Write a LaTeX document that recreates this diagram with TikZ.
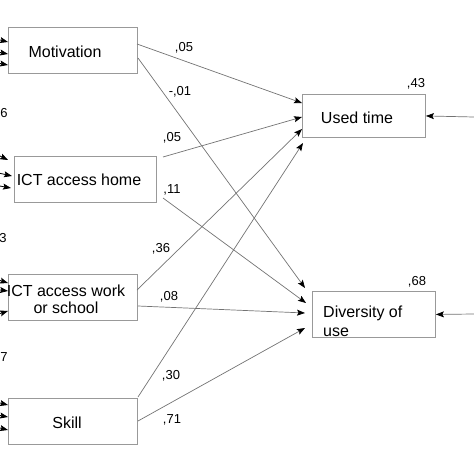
\documentclass[tikz,border=0pt]{standalone}
\usepackage{fontspec}
\setmainfont{Liberation Sans}
\usetikzlibrary{arrows.meta}
\tikzset{
  box/.style={draw=black!40, line width=0.9pt, inner sep=0pt, anchor=north west},
  lbl/.style={font=\fontsize{16}{17}\selectfont, inner sep=0pt, anchor=base},
  coef/.style={font=\fontsize{13}{14}\selectfont, inner sep=0pt},
  path/.style={draw=black!55, line width=0.7pt, -{Stealth[length=8pt,width=6pt,inset=1.5pt,color=black]}},
  stub/.style={draw=black, line width=0.8pt, -{Stealth[length=8pt,width=6pt,inset=1.5pt,color=black]}}
}
\begin{document}
\begin{tikzpicture}[x=1pt,y=-1pt]
\useasboundingbox (0,0) rectangle (474,474);
% boxes
\node[box, minimum width=129pt, minimum height=46pt] (mot) at (8,27) {};
\node[box, minimum width=142pt, minimum height=46pt] (home) at (14,156) {};
\node[box, minimum width=129pt, minimum height=46pt] (work) at (8,274) {};
\node[box, minimum width=129pt, minimum height=46pt] (skill) at (8,398) {};
\node[box, minimum width=123pt, minimum height=43pt] (used) at (302,94) {};
\node[box, minimum width=123pt, minimum height=46pt] (div) at (312,291) {};
% texts
\node[lbl] (tmot) at (65,57) {Motivation};
\node[lbl] (thome) at (79,185) {ICT access home};
\node[lbl, align=center, anchor=base] (twork) at (66,313) {ICT access work\\or school};
\node[lbl] (tskill) at (67,428) {Skill};
\node[lbl] (tused) at (357,123) {Used time};
\node[lbl, align=left, anchor=base west] (tdiv) at (323,336) {Diversity of\\[2pt]use};
% connector endpoints
\coordinate (m1) at (137,44);
\coordinate (m2) at (138,58);
\coordinate (h1) at (163,157);
\coordinate (h2) at (163,198);
\coordinate (w1) at (137,290);
\coordinate (w2) at (138,306);
\coordinate (s1) at (138,397);
\coordinate (s2) at (138,421);
\coordinate (u1) at (302,103);
\coordinate (u2) at (302,117);
\coordinate (u3) at (302,129);
\coordinate (u4) at (303,143);
\coordinate (d1) at (305,288);
\coordinate (d2) at (306,303);
\coordinate (d3) at (305,313);
\coordinate (d4) at (305,328);
\coordinate (ue) at (474,117);
\coordinate (de) at (474,314);
% paths
\draw[path] (m1) -- (u1);
\draw[path] (m2) -- (d1);
\draw[path] (h1) -- (u2);
\draw[path] (h2) -- (d2);
\draw[path] (w1) -- (u3);
\draw[path] (w2) -- (d3);
\draw[path] (s1) -- (u4);
\draw[path] (s2) -- (d4);
\draw[path] (ue) -- (used.east);
\draw[path] (de) -- (div.east);
% coefficients
\node[coef] (c1) at (184,48) {,05};
\node[coef] (c2) at (180,92) {-,01};
\node[coef] (c3) at (172,138) {,05};
\node[coef] (c4) at (172,190) {,11};
\node[coef] (c5) at (161,249) {,36};
\node[coef] (c6) at (169,297) {,08};
\node[coef] (c7) at (171,376) {,30};
\node[coef] (c8) at (172,420) {,71};
\node[coef] (c9) at (416,84) {,43};
\node[coef] (c10) at (417,282) {,68};
% partial numbers at left edge
\node[coef] (p1) at (4,113) {6};
\node[coef] (p2) at (3,238) {3};
\node[coef] (p3) at (4,357) {7};
% left stubs (covariances coming from outside)
\coordinate (a1) at (-8,38); \coordinate (b1) at (8,42);
\coordinate (a2) at (-8,51); \coordinate (b2) at (8,54);
\coordinate (a3) at (-8,62); \coordinate (b3) at (8,65);
\coordinate (a4) at (-8,152); \coordinate (b4) at (8,160);
\coordinate (a5) at (-6,172); \coordinate (b5) at (12,176);
\coordinate (a6) at (-6,185); \coordinate (b6) at (11,188);
\coordinate (a7) at (-8,278); \coordinate (b7) at (8,283);
\coordinate (a8) at (-8,289); \coordinate (b8) at (8,291);
\coordinate (a9) at (-8,316); \coordinate (b9) at (8,311);
\coordinate (a10) at (-8,401); \coordinate (b10) at (8,405);
\coordinate (a11) at (-8,414); \coordinate (b11) at (8,417);
\coordinate (a12) at (-8,426); \coordinate (b12) at (8,430);
\foreach \i in {1,...,12} { \draw[stub] (a\i) -- (b\i); }
\end{tikzpicture}
\end{document}
